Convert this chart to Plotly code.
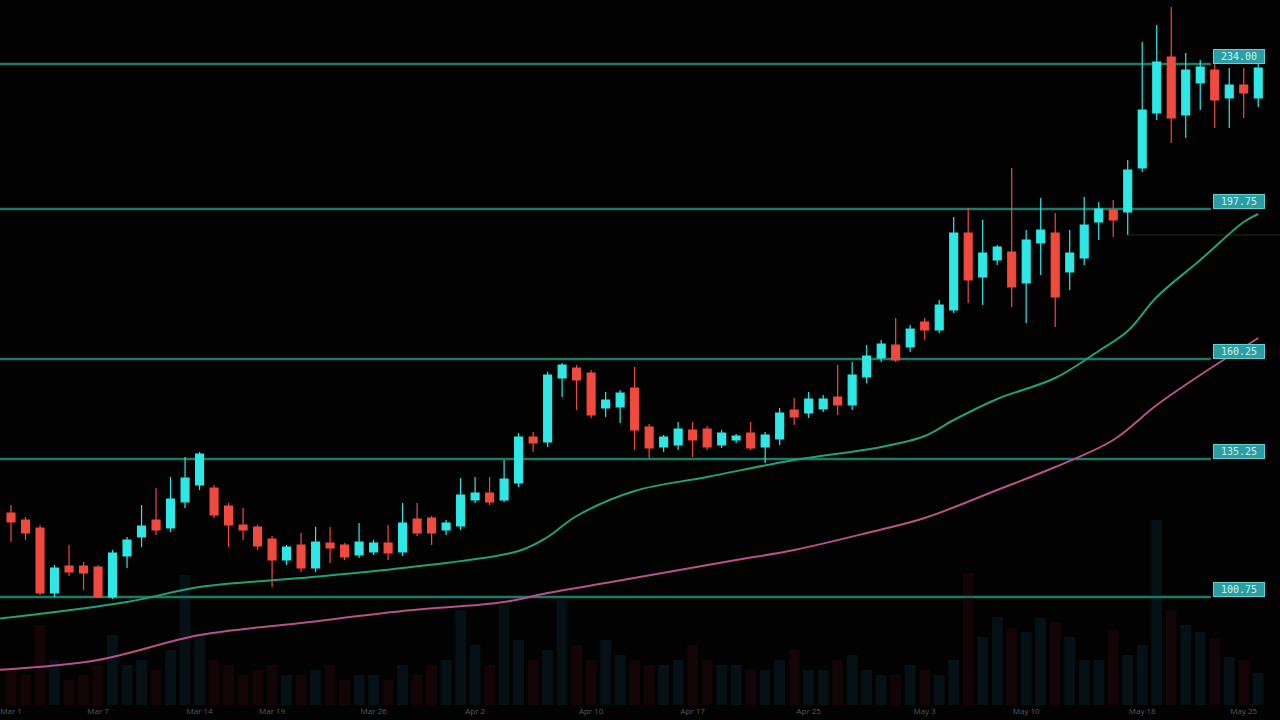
import plotly.graph_objects as go

# candle data (index 0..86)
opens = [121.75, 120, 118, 101.75, 108.5, 108.5, 108.25, 100.75, 111, 115.75,
         120, 118, 124.5, 128.75, 128, 123.5, 118.75, 118.25, 115.25, 110,
         113.75, 108, 114.25, 113.75, 111.25, 112, 114.25, 112, 120.25, 120.5,
         117.5, 118.5, 125, 126.75, 125, 129.25, 140.75, 139.5, 155.5, 158,
         156.75, 148, 148.25, 153, 143.25, 138.25, 138.75, 142.5, 142.75, 138.75,
         140, 141.75, 138.25, 140.25, 147.5, 146.75, 147.75, 150.75, 148.75, 155.75,
         160.5, 163.75, 163.25, 169.5, 167.5, 172.5, 191.75, 180.75, 185, 187,
         179.25, 189.25, 191.75, 182, 185.5, 194.5, 197.5, 197, 208, 221.75,
         235.75, 221.25, 229.25, 232.5, 225.5, 228.75, 225.5]
closes = [119.5, 116.75, 101.75, 108, 107, 106.75, 100.75, 111.75, 115, 118.5,
          117.5, 125.25, 130.5, 136.5, 121.25, 118.75, 117.5, 113.5, 110, 113.25,
          108, 114.5, 113, 110.75, 114.5, 114.25, 111.75, 119.25, 116.75, 116.75,
          119.25, 126.25, 126.75, 124.5, 130.25, 140.75, 139.25, 156.25, 158.75, 155,
          146.25, 150, 151.75, 142.5, 138, 140.75, 142.75, 140, 138.25, 141.75,
          141, 138, 141.25, 146.75, 145.75, 150.25, 150.25, 148.75, 156.25, 161,
          164, 160, 167.75, 167.5, 173.75, 191.75, 180, 186.75, 188.25, 178.25,
          190, 192.5, 175.75, 186.75, 193.75, 197.75, 195, 207.5, 222.5, 234.5,
          220.5, 232.5, 233.25, 225, 228.75, 226.75, 233]
highs = [123.75, 120.75, 118.75, 108.75, 113.75, 109.5, 108.75, 112.5, 115.75, 123.75,
         128, 130.75, 135.75, 137, 128.75, 124.25, 123, 118.75, 116, 113.75,
         116.75, 118.25, 118.25, 114.25, 119.25, 115, 118.75, 124.25, 124.25, 121,
         120, 130.5, 130.75, 130.75, 135, 141.75, 142, 157, 159.25, 158.75,
         157.5, 152, 152.5, 158.25, 144, 141.25, 144.5, 144.5, 143.5, 142.5,
         141.5, 144.5, 142, 148, 150.5, 152, 151.25, 158.75, 159.5, 163.75,
         165, 170.5, 168.75, 170.5, 175, 195.75, 198, 195, 188.75, 208,
         192.5, 200.5, 196.75, 192.5, 200.75, 199.5, 200, 210, 239.5, 243.75,
         248.25, 236.75, 235, 235, 233, 233, 235]
lows = [114.5, 115, 101.25, 100.75, 106, 102.5, 100.5, 100.25, 108, 113.25,
        116.25, 117, 123, 127.5, 120.5, 113.25, 115, 112.5, 103.25, 108.75,
        107, 107, 109.25, 110, 110.5, 111.25, 110, 111, 116, 113.75,
        116.25, 117.5, 124.25, 123.75, 124.5, 128.25, 137, 138.25, 150.75, 147.5,
        145.5, 145.75, 144.25, 137.5, 135.5, 137, 137.5, 135.75, 137.5, 138,
        139.25, 137.5, 134.25, 138.75, 143.75, 145.5, 147, 146.25, 147.5, 154.25,
        159.5, 159.5, 162, 165, 166.75, 171.75, 174.25, 173.75, 183.75, 173.25,
        169.25, 181.25, 168.25, 177.5, 183.75, 190, 190.75, 191.25, 207, 220,
        214.25, 215.5, 222.5, 218, 218, 220.5, 223.25]
volume = [35, 30, 80, 45, 25, 30, 40, 70, 40, 45,
          35, 55, 130, 70, 45, 40, 30, 35, 40, 30,
          30, 35, 40, 25, 30, 30, 25, 40, 30, 40,
          45, 95, 60, 40, 100, 65, 45, 55, 105, 60,
          45, 65, 50, 45, 40, 40, 45, 60, 45, 40,
          40, 35, 35, 45, 55, 35, 35, 45, 50, 35,
          30, 30, 40, 35, 30, 45, 132, 68, 88, 77,
          73, 87, 83, 68, 45, 45, 75, 50, 60, 185,
          95, 80, 73, 67, 48, 45, 32]

ma_fast_idx = [-1, 8, 13, 20, 27, 35, 37, 39, 43, 48, 54, 60, 63, 65, 68, 72, 75, 77, 79, 82, 85, 86]
ma_fast = [95.25, 99.5, 103.25, 105.5, 108, 112.25, 115.75, 121, 127.25, 130.75, 135,
           138.25, 141, 145, 150.25, 155.5, 162.25, 167.25, 175.75, 185, 194.5, 196.5]
ma_slow_idx = [-1, 6, 13, 20, 27, 34, 37, 41, 50, 54, 59, 63, 68, 72, 76, 79, 82, 86]
ma_slow = [82.5, 85, 91.25, 94.25, 97.25, 99.5, 101.75, 104.25, 110, 112.5, 116.75,
           120.5, 127.5, 133.25, 140, 148.75, 156.25, 165.5]

levels = [234.0, 197.75, 160.25, 135.25, 100.75]

tick_idx = [0, 6, 13, 18, 25, 32, 40, 47, 55, 63, 70, 78, 85]
tick_text = ["Mar 1", "Mar 7", "Mar 14", "Mar 19", "Mar 26", "Apr 2", "Apr 10",
             "Apr 17", "Apr 25", "May 3", "May 10", "May 18", "May 25"]

UP = "#2ee8e6"
DOWN = "#f04a3e"

idx = list(range(len(opens)))
vol_colors = ["rgba(30,110,125,0.15)" if c >= o else "rgba(120,30,40,0.15)"
              for o, c in zip(opens, closes)]

fig = go.Figure()

fig.add_trace(go.Bar(x=idx, y=volume, marker=dict(color=vol_colors, line=dict(width=0)),
                     yaxis="y", showlegend=False, hoverinfo="skip"))

fig.add_trace(go.Scatter(x=ma_slow_idx, y=ma_slow, mode="lines", yaxis="y2",
                         line=dict(color="#b8508a", width=2, shape="spline"),
                         showlegend=False))
fig.add_trace(go.Scatter(x=ma_fast_idx, y=ma_fast, mode="lines", yaxis="y2",
                         line=dict(color="#22a07c", width=2, shape="spline"),
                         showlegend=False))

fig.add_trace(go.Candlestick(
    x=idx, open=opens, high=highs, low=lows, close=closes, yaxis="y2",
    increasing=dict(line=dict(color=UP, width=1.2), fillcolor=UP),
    decreasing=dict(line=dict(color=DOWN, width=1.2), fillcolor=DOWN),
    whiskerwidth=0, showlegend=False,
))

for lv in levels:
    fig.add_shape(type="line", xref="paper", x0=0, x1=0.946, yref="y2", y0=lv, y1=lv,
                  line=dict(color="#1d7a66", width=2.5), layer="below")
    fig.add_annotation(xref="paper", x=0.968, xanchor="center", yref="y2", y=lv, yshift=8,
                       text=f" {lv:.2f} ", showarrow=False,
                       font=dict(family="DejaVu Sans Mono", size=10, color="#c8f4f4"),
                       bgcolor="#2a9ea2", bordercolor="#5fd2d2", borderwidth=1, borderpad=1)

fig.add_shape(type="line", x0=77, x1=88, yref="y2", y0=191.25, y1=191.25,
              line=dict(color="#1c2a2a", width=1), layer="below")

fig.update_layout(
    width=1280, height=720,
    paper_bgcolor="#020202", plot_bgcolor="#020202",
    margin=dict(l=0, r=0, t=0, b=15),
    bargap=0.25, boxgap=0.22,
    xaxis=dict(range=[-0.76, 87.5], rangeslider=dict(visible=False), showgrid=False,
               zeroline=False, tickmode="array", tickvals=tick_idx, ticktext=tick_text,
               tickfont=dict(color="#5a5a5a", size=8), ticks=""),
    yaxis=dict(range=[0, 705], visible=False, showgrid=False),
    yaxis2=dict(range=[73.75, 250], overlaying="y", visible=False, showgrid=False),
)

fig.write_html("out.html", config={"displayModeBar": False},
               post_script="document.body.style.margin='0';"
                           "document.body.style.background='#020202';")
